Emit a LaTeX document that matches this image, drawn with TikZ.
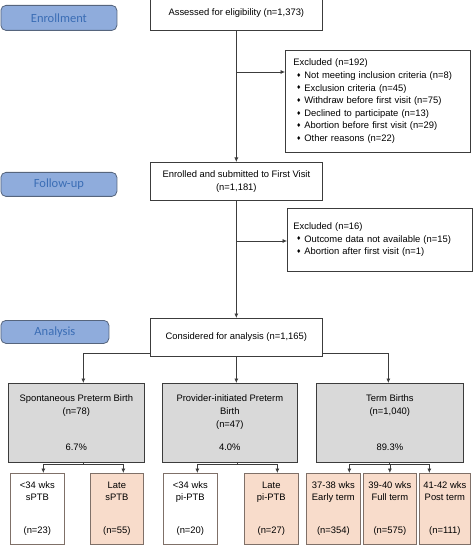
\documentclass[tikz,border=0pt]{standalone}
\usepackage{fontspec}
\setmainfont{Liberation Sans}
\newfontfamily\tabfont{Carlito}
\newfontfamily\dejavu{DejaVu Sans}
\usetikzlibrary{arrows.meta}

\definecolor{tabfill}{HTML}{8FACDC}
\definecolor{tabedge}{HTML}{56657D}
\definecolor{tabtext}{HTML}{3A6DB5}
\definecolor{grayfill}{HTML}{D9D9D9}
\definecolor{peach}{HTML}{F8DCCB}
\definecolor{peachedge}{HTML}{7F7068}
\definecolor{lineclr}{HTML}{3C3C3C}

\newcommand{\bul}{\hspace*{3pt}\makebox[8pt][l]{\raisebox{1.3pt}{\dejavu\fontsize{5.5}{5.5}\selectfont ♦}}}

\tikzset{
  phase/.style={draw=tabedge, fill=tabfill, rounded corners=5pt, line width=0.8pt,
    text=tabtext, font=\tabfont\fontsize{12.5}{14}\selectfont, anchor=north west},
  stepbox/.style={draw=lineclr, line width=0.7pt, anchor=north west, align=center,
    font=\fontsize{9.4}{12.6}\selectfont},
  exclbox/.style={stepbox, align=left, inner xsep=8pt},
  groupbox/.style={stepbox, fill=grayfill, minimum height=79pt},
  subbox/.style={stepbox, draw=peachedge, minimum height=71pt, inner xsep=1pt,
    font=\fontsize{9.4}{12}\selectfont},
  latebox/.style={subbox, fill=peach},
  arrow/.style={draw=lineclr, line width=0.7pt, -{Latex[length=4.5pt, width=4pt]}},
  link/.style={draw=lineclr, line width=0.7pt}
}

\begin{document}
\begin{tikzpicture}[x=1pt, y=-1pt]
\useasboundingbox (0,0) rectangle (474,545);

% phases on the left
\node[phase, minimum width=116pt, minimum height=25pt] (enroll) at (0.5,5) {Enrollment};
\node[phase, minimum width=116pt, minimum height=24pt] (follow) at (0.5,172) {Follow-up};
\node[phase, minimum width=108pt, minimum height=23pt] (analysis) at (0.5,320) {Analysis};

% main column
\node[stepbox, minimum width=172pt, minimum height=34pt] (assess) at (150,-4)
  {Assessed for eligibility (n=1,373)};
\node[stepbox, minimum width=172pt, minimum height=38pt] (enrol) at (150,162)
  {Enrolled and submitted to First Visit\\(n=1,181)};
\node[stepbox, minimum width=172pt, minimum height=38pt] (consid) at (150,318)
  {Considered for analysis (n=1,165)};

% exclusions
\node[exclbox, text width=169pt, minimum height=102pt] (excl1) at (285,50)
  {Excluded (n=192)\\
   \bul Not meeting inclusion criteria (n=8)\\
   \bul Exclusion criteria (n=45)\\
   \bul Withdraw before first visit (n=75)\\
   \bul Declined to participate (n=13)\\
   \bul Abortion before first visit (n=29)\\
   \bul Other reasons (n=22)};
\node[exclbox, inner xsep=6pt, text width=173pt, minimum height=63pt] (excl2) at (287,208)
  {Excluded (n=16)\\
   \bul Outcome data not available (n=15)\\
   \bul Abortion after first visit (n=1)};

% groups
\node[groupbox, minimum width=136pt] (spont) at (8,383)
  {Spontaneous Preterm Birth\\(n=78)\\[24pt]6.7\%};
\node[groupbox, minimum width=135pt] (provider) at (162,383)
  {Provider-initiated Preterm\\Birth\\(n=47)\\[11pt]4.0\%};
\node[groupbox, minimum width=147pt] (term) at (316,383)
  {Term Births\\(n=1,040)\\[24pt]89.3\%};

% subgroups
\node[subbox, minimum width=54pt] (s1) at (10,473) {<34 wks\\sPTB\\[21pt](n=23)};
\node[latebox, minimum width=53pt] (s2) at (90,473) {Late\\sPTB\\[21pt](n=55)};
\node[subbox, minimum width=54pt] (p1) at (163,473) {<34 wks\\pi-PTB\\[21pt](n=20)};
\node[latebox, minimum width=54pt] (p2) at (244,473) {Late\\pi-PTB\\[21pt](n=27)};
\node[latebox, minimum width=54pt] (t1) at (306,473) {37-38 wks\\Early term\\[21pt](n=354)};
\node[latebox, minimum width=53pt] (t2) at (363,473) {39-40 wks\\Full term\\[21pt](n=575)};
\node[latebox, minimum width=51pt] (t3) at (419,473) {41-42 wks\\Post term\\[21pt](n=111)};

% flow
\draw[arrow] (assess) -- (enrol);
\draw[arrow] (enrol) -- (consid);
\coordinate (b1) at (236,72);
\coordinate (b2) at (236,241);
\draw[arrow] (b1) -- (b1 -| excl1.west);
\draw[arrow] (b2) -- (b2 -| excl2.west);

\draw[arrow] ([yshift=3pt]consid.south west) -| ([xshift=7pt]spont.north);
\draw[arrow] (consid) -- (consid |- provider.north);
\draw[arrow] ([yshift=3pt]consid.south east) -| ([xshift=-1.5pt]term.north);

\coordinate (sj) at (83,464);
\coordinate (pj) at (237,464);
\coordinate (tj) at (389,464);
\draw[link] (spont.south -| sj) -- (sj);
\draw[link] (provider.south -| pj) -- (pj);
\draw[link] (term.south -| tj) -- (tj);
\foreach \b/\dx in {s1/6, s2/6.5} {
  \draw[arrow] (sj) -| ([xshift=\dx pt]\b.north);
}
\foreach \b/\dx in {p1/7, p2/6} {
  \draw[arrow] (pj) -| ([xshift=\dx pt]\b.north);
}
\foreach \b/\dx in {t1/16, t2/0, t3/-15.5} {
  \draw[arrow] (tj) -| ([xshift=\dx pt]\b.north);
}
\end{tikzpicture}
\end{document}
